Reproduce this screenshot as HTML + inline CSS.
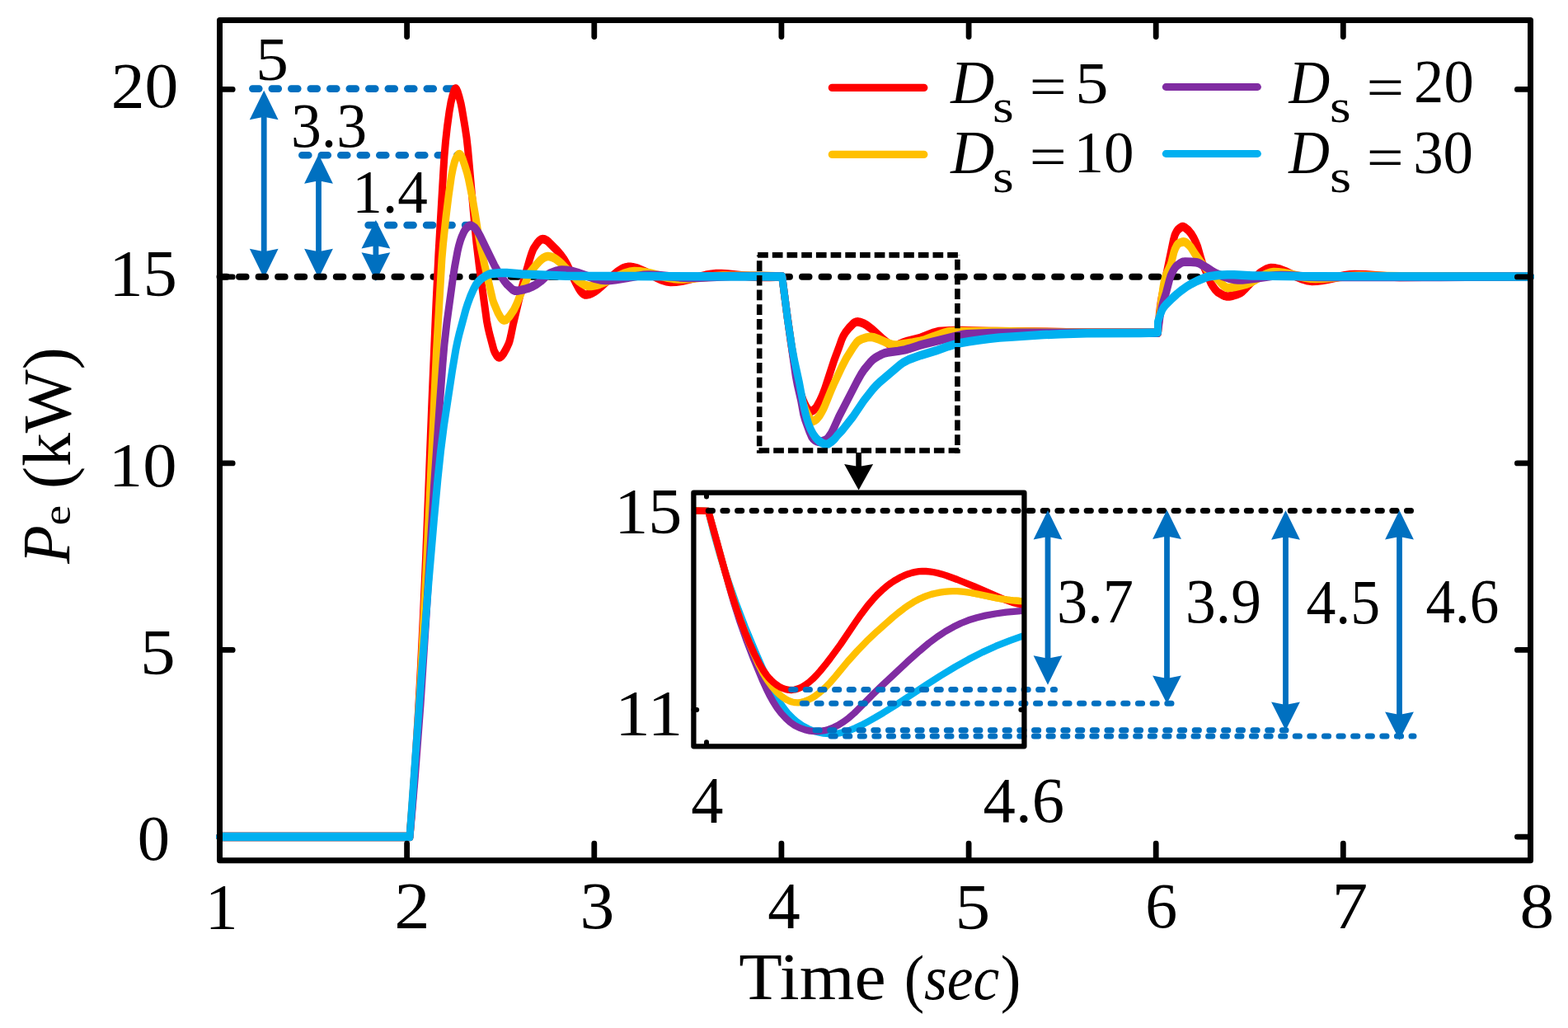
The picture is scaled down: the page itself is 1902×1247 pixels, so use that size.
<!DOCTYPE html>
<html><head><meta charset="utf-8"><title>Pe (kW) vs Time</title><style>html,body{margin:0;padding:0;background:#fff;}svg{display:block;}</style></head><body>
<svg width="1902" height="1247" viewBox="0 0 1902 1247">
<rect width="100%" height="100%" fill="#fff"/>
<defs><clipPath id="mclip"><rect x="262" y="24.5" width="1599" height="1019"/></clipPath><clipPath id="iclip"><rect x="841.4" y="597.7" width="401" height="307.6"/></clipPath></defs>
<line x1="320.2" y1="141.3" x2="320.2" y2="305.7" stroke="#0070C0" stroke-width="6.8"/><path d="M320.2,109.8 L337.6,145.3 L320.2,141.8 L302.8,145.3 Z" fill="#0070C0"/><path d="M320.2,337.2 L337.6,301.7 L320.2,305.2 L302.8,301.7 Z" fill="#0070C0"/>
<line x1="386.5" y1="218.7" x2="386.5" y2="305.7" stroke="#0070C0" stroke-width="6.8"/><path d="M386.5,187.2 L403.9,222.7 L386.5,219.2 L369.1,222.7 Z" fill="#0070C0"/><path d="M386.5,337.2 L403.9,301.7 L386.5,305.2 L369.1,301.7 Z" fill="#0070C0"/>
<line x1="455.9" y1="297.59999999999997" x2="455.9" y2="310.2" stroke="#0070C0" stroke-width="6.8"/><path d="M455.9,266.9 L473.3,301.6 L455.9,298.1 L438.5,301.6 Z" fill="#0070C0"/><path d="M455.9,340.9 L473.3,306.2 L455.9,309.7 L438.5,306.2 Z" fill="#0070C0"/>
<line x1="266.5" y1="335.8" x2="1856.5" y2="335.8" stroke="#000" stroke-width="8" stroke-dasharray="8.5 15.05" stroke-linecap="round"/>
<line x1="306.3" y1="107.6" x2="550" y2="107.6" stroke="#0070C0" stroke-width="8.6" stroke-dasharray="8 15.5" stroke-linecap="round"/>
<line x1="366.3" y1="188.2" x2="556" y2="188.2" stroke="#0070C0" stroke-width="8.6" stroke-dasharray="8 15.5" stroke-linecap="round"/>
<line x1="446.6" y1="273.1" x2="568" y2="273.1" stroke="#0070C0" stroke-width="8.6" stroke-dasharray="8 15.5" stroke-linecap="round"/>
<g clip-path="url(#mclip)"><g transform="matrix(1 0 0 1.17 0 0)" fill="none" stroke-width="9.0" stroke-linejoin="round" stroke-linecap="round">
<path d="M266.5,867.6 L497.0,867.6 L500.5,830.2 L504.0,786.5 L507.5,737.5 L510.5,689.6 L513.5,636.4 L516.5,578.8 L524.0,414.3 L529.0,314.1 L532.0,262.0 L538.0,174.9 L539.0,161.6 L540.5,146.7 L542.5,131.3 L545.0,115.8 L547.0,106.0 L549.0,99.2 L551.0,93.7 L552.0,92.2 L552.5,91.9 L553.0,91.9 L553.5,92.3 L555.0,94.9 L557.0,100.5 L559.0,107.0 L560.5,113.6 L564.0,131.4 L566.0,142.8 L567.5,154.4 L576.0,235.4 L578.0,252.2 L581.5,277.1 L590.5,333.0 L592.0,339.7 L593.5,345.3 L599.0,362.9 L600.0,365.0 L602.5,368.7 L604.0,370.1 L605.0,370.5 L606.5,370.3 L608.0,369.4 L609.5,368.1 L611.0,366.3 L614.6,360.8 L617.1,356.1 L618.1,353.7 L619.6,348.3 L622.6,335.8 L633.1,298.0 L637.6,283.6 L642.6,268.7 L645.1,262.1 L646.6,258.9 L647.6,257.2 L651.6,252.2 L653.6,250.2 L655.1,249.0 L656.6,248.2 L658.1,247.9 L659.6,248.0 L661.6,248.6 L663.6,249.6 L665.6,251.0 L675.6,259.6 L681.1,265.2 L684.6,269.4 L687.6,273.8 L698.1,292.8 L702.1,299.2 L704.1,301.7 L706.1,303.7 L708.1,305.0 L709.6,305.5 L712.1,305.5 L715.1,304.9 L718.1,303.9 L721.6,302.2 L725.1,300.0 L728.6,297.5 L743.1,286.0 L749.1,281.7 L752.6,279.7 L755.6,278.3 L758.6,277.3 L761.6,276.8 L764.6,276.8 L767.6,277.1 L770.6,277.7 L774.1,278.6 L781.1,281.1 L795.6,287.4 L801.6,289.8 L808.1,291.6 L813.6,292.3 L820.1,292.1 L827.1,291.3 L834.6,289.9 L856.2,285.3 L862.7,284.3 L868.7,283.8 L875.2,283.8 L882.7,284.2 L909.2,286.5 L919.2,287.1 L933.7,287.1 L948.7,286.7 L954.2,323.2 L959.7,356.3 L962.7,372.3 L968.2,398.0 L969.7,403.3 L971.2,407.6 L973.7,413.6 L975.7,417.9 L977.2,420.5 L979.2,423.4 L981.7,425.7 L983.2,426.5 L984.7,426.3 L986.2,425.6 L988.2,424.1 L990.2,422.3 L994.2,416.0 L997.2,410.6 L1000.7,402.7 L1011.7,373.9 L1017.2,361.3 L1020.7,352.7 L1022.7,348.8 L1025.7,344.5 L1029.7,340.1 L1035.3,335.2 L1036.3,334.6 L1038.8,333.7 L1040.8,333.6 L1043.8,334.2 L1047.8,335.5 L1051.3,337.2 L1057.8,341.4 L1069.3,350.4 L1080.3,358.2 L1082.8,359.7 L1085.3,360.3 L1086.3,360.1 L1087.3,359.7 L1091.3,356.8 L1094.8,355.4 L1100.8,353.8 L1116.8,350.3 L1132.8,344.9 L1138.3,343.7 L1147.3,343.2 L1157.8,342.8 L1167.3,342.7 L1199.4,343.6 L1253.4,344.1 L1306.9,344.8 L1404.5,345.0 L1406.5,323.7 L1408.5,311.2 L1415.0,283.4 L1423.5,248.6 L1425.0,243.9 L1426.0,241.9 L1427.5,239.6 L1429.0,238.0 L1431.0,236.5 L1432.5,235.6 L1434.0,235.1 L1435.5,235.1 L1437.0,235.7 L1441.5,238.8 L1445.0,242.4 L1448.0,246.6 L1450.5,251.1 L1452.6,255.5 L1457.1,269.0 L1459.1,274.2 L1464.6,284.7 L1468.1,292.1 L1469.1,293.9 L1470.6,296.1 L1474.1,300.3 L1477.1,302.9 L1483.1,305.9 L1485.6,306.8 L1487.6,307.2 L1491.1,307.2 L1495.1,306.6 L1501.1,305.0 L1504.6,303.7 L1507.1,302.1 L1509.6,300.0 L1518.1,292.4 L1525.1,285.6 L1528.1,283.2 L1530.1,282.0 L1536.1,279.1 L1539.1,278.1 L1541.6,277.8 L1546.7,278.1 L1552.7,279.3 L1559.2,281.4 L1573.7,287.2 L1579.7,289.3 L1586.2,290.9 L1591.7,291.4 L1597.2,291.3 L1603.7,290.6 L1610.7,289.5 L1631.2,285.7 L1637.7,284.9 L1643.3,284.6 L1656.3,284.9 L1685.3,286.7 L1697.8,287.2 L1755.9,286.8 L1856.5,286.8" stroke="#FF0000"/>
<path d="M266.5,867.6 L497.0,867.6 L500.5,830.4 L504.0,788.5 L507.5,742.5 L510.5,698.7 L518.0,575.6 L529.5,363.3 L536.0,267.9 L537.5,253.1 L541.0,224.8 L544.0,203.8 L547.5,182.8 L549.5,174.1 L551.5,167.5 L552.5,165.4 L554.5,162.0 L555.5,160.8 L556.5,160.0 L557.5,159.9 L558.5,160.5 L559.5,161.7 L561.0,164.4 L564.0,172.1 L566.5,179.1 L568.0,184.1 L573.0,205.2 L576.5,222.7 L580.0,241.6 L583.0,255.3 L588.0,275.3 L597.5,310.2 L599.0,314.3 L604.0,324.2 L607.0,328.8 L608.5,330.5 L609.5,331.3 L611.0,332.0 L612.0,332.0 L613.5,331.7 L615.1,330.8 L618.1,327.9 L623.1,321.6 L626.1,316.4 L639.6,288.4 L641.6,284.8 L643.6,281.9 L650.1,274.8 L655.1,270.2 L657.6,268.4 L659.6,267.2 L661.6,266.4 L663.6,265.9 L666.1,265.9 L669.1,266.4 L672.1,267.5 L675.1,269.1 L678.6,271.4 L682.1,274.2 L696.1,286.7 L702.1,291.5 L705.6,293.7 L708.6,295.2 L711.6,296.2 L714.1,296.6 L717.1,296.5 L720.1,296.2 L723.6,295.6 L727.1,294.7 L734.6,292.2 L749.6,286.2 L756.6,283.7 L763.6,281.9 L769.6,281.2 L775.6,281.4 L782.6,282.2 L789.6,283.5 L810.1,287.9 L816.6,288.8 L822.6,289.3 L829.1,289.3 L836.6,288.9 L864.7,286.5 L876.7,285.9 L918.2,286.0 L948.7,286.8 L954.7,326.4 L959.7,356.3 L962.7,372.3 L968.7,400.8 L970.2,406.3 L972.2,412.6 L974.7,419.4 L976.7,424.0 L979.2,428.8 L983.2,435.2 L984.2,436.4 L985.2,436.9 L986.2,436.7 L987.7,436.2 L990.7,434.5 L994.2,430.9 L996.7,427.4 L998.7,424.2 L1000.7,420.4 L1007.7,405.6 L1011.7,397.6 L1021.2,380.3 L1026.7,371.2 L1035.3,359.6 L1038.8,355.4 L1039.8,354.4 L1041.3,353.3 L1045.3,351.5 L1051.3,349.9 L1055.8,349.3 L1059.3,349.7 L1066.8,352.0 L1073.3,354.4 L1080.3,356.8 L1083.3,357.5 L1085.8,357.7 L1089.8,357.4 L1107.3,355.1 L1116.8,353.6 L1121.8,352.4 L1132.3,348.9 L1145.8,345.0 L1150.3,344.0 L1153.8,343.6 L1176.8,343.5 L1209.4,343.7 L1316.4,344.9 L1404.5,345.0 L1406.5,327.4 L1408.5,312.9 L1411.0,297.5 L1412.0,292.6 L1413.0,288.9 L1415.0,283.8 L1418.5,277.4 L1420.0,274.3 L1421.0,271.6 L1424.0,261.4 L1425.5,257.8 L1427.5,254.5 L1429.0,252.8 L1431.0,251.7 L1434.0,250.9 L1436.0,250.7 L1437.5,251.0 L1439.5,252.1 L1442.5,254.3 L1444.5,256.4 L1449.0,262.5 L1456.1,271.2 L1463.1,278.5 L1468.6,283.4 L1476.6,289.1 L1484.1,296.1 L1486.6,297.7 L1488.6,298.3 L1492.6,298.1 L1497.6,297.5 L1504.1,296.3 L1512.1,294.6 L1518.6,292.1 L1530.6,286.3 L1535.6,284.2 L1540.6,282.7 L1545.1,282.1 L1550.7,282.2 L1556.7,282.8 L1563.7,284.0 L1583.7,287.8 L1590.2,288.6 L1595.7,288.9 L1608.2,288.5 L1636.2,286.4 L1648.8,285.9 L1715.8,286.7 L1856.5,286.8" stroke="#FFC000"/>
<path d="M266.5,867.6 L497.0,867.6 L500.0,839.6 L503.5,804.1 L510.0,730.7 L516.5,645.8 L526.5,503.9 L533.5,417.7 L537.0,377.0 L539.0,356.9 L542.0,334.4 L549.0,290.8 L551.5,276.8 L555.0,260.5 L556.5,255.0 L558.5,249.2 L560.0,245.6 L562.0,241.7 L563.5,239.2 L565.0,237.2 L567.5,235.1 L569.5,233.9 L570.5,233.8 L571.5,233.9 L573.5,234.7 L576.0,236.3 L578.0,238.4 L580.5,241.7 L582.5,244.8 L600.0,275.5 L604.0,281.6 L612.0,291.6 L615.1,294.9 L621.1,299.8 L623.1,300.9 L624.6,301.4 L626.6,301.4 L629.1,301.2 L636.1,300.0 L640.6,298.9 L645.1,297.3 L650.1,295.1 L656.6,291.1 L664.1,285.1 L667.1,283.3 L675.1,280.9 L678.6,280.2 L681.6,280.0 L687.1,280.1 L693.6,281.1 L700.6,282.8 L715.6,287.2 L721.6,288.8 L728.1,290.1 L734.1,290.6 L740.1,290.5 L746.6,289.9 L774.6,286.0 L781.1,285.3 L787.1,285.1 L798.6,285.4 L824.1,287.5 L835.6,288.0 L848.6,287.8 L875.2,286.7 L886.7,286.3 L922.2,286.4 L948.7,286.8 L955.2,329.4 L965.2,389.8 L967.2,398.9 L971.7,415.6 L974.7,429.6 L976.7,435.4 L981.7,447.1 L984.7,453.1 L986.2,454.8 L988.2,456.3 L991.2,457.6 L993.7,458.1 L995.7,457.9 L999.2,457.0 L1002.2,455.9 L1004.7,453.7 L1008.2,449.3 L1009.7,447.0 L1017.7,431.9 L1039.8,395.2 L1044.3,388.3 L1048.3,383.1 L1055.3,375.9 L1059.3,372.5 L1061.8,370.9 L1064.8,369.4 L1069.8,367.2 L1073.3,366.0 L1076.8,365.4 L1089.3,364.0 L1097.8,362.7 L1102.8,361.5 L1114.3,358.3 L1120.8,356.8 L1164.3,347.6 L1168.8,346.8 L1172.8,346.4 L1203.4,345.4 L1236.4,345.0 L1404.5,345.0 L1407.0,328.7 L1409.0,319.1 L1410.5,314.2 L1414.5,303.5 L1418.5,290.4 L1420.0,286.2 L1421.0,284.1 L1423.0,280.8 L1425.0,278.0 L1426.5,276.4 L1428.0,275.2 L1431.5,273.1 L1433.5,272.1 L1435.5,271.5 L1437.5,271.4 L1444.5,271.6 L1451.0,272.0 L1453.1,272.4 L1456.6,273.9 L1464.1,277.7 L1471.6,281.9 L1475.1,283.5 L1484.6,286.7 L1490.6,288.5 L1496.6,289.7 L1501.6,290.2 L1507.1,290.1 L1513.6,289.6 L1541.1,286.3 L1547.7,285.7 L1553.7,285.5 L1564.2,285.7 L1588.2,286.9 L1599.2,287.2 L1747.4,287.1 L1856.5,286.8" stroke="#802CA2"/>
<path d="M266.5,867.6 L497.0,867.6 L503.5,789.4 L511.5,696.6 L520.0,603.0 L526.5,538.2 L531.0,496.5 L534.5,468.0 L538.5,441.0 L548.5,384.6 L553.0,362.0 L555.0,353.7 L557.0,346.5 L565.0,321.1 L567.5,314.5 L570.5,307.5 L574.5,299.7 L577.5,295.0 L580.5,291.8 L584.0,288.9 L589.0,286.1 L592.5,284.6 L595.5,283.8 L599.5,283.5 L607.0,283.0 L614.6,282.9 L632.6,284.1 L686.6,286.1 L805.1,286.6 L948.7,286.8 L955.7,332.8 L960.7,360.3 L963.7,374.0 L969.2,395.5 L973.7,416.0 L976.2,425.7 L978.2,432.6 L980.7,439.4 L983.2,444.9 L986.2,449.8 L989.2,453.5 L990.7,455.0 L992.7,456.6 L994.7,457.9 L997.7,459.5 L999.7,460.2 L1003.2,460.5 L1004.7,460.1 L1008.7,457.8 L1011.2,456.0 L1012.7,454.7 L1016.2,450.9 L1022.2,445.5 L1034.3,432.4 L1047.8,415.4 L1058.3,404.0 L1062.8,399.7 L1066.8,396.4 L1091.8,378.2 L1096.3,375.5 L1102.3,372.9 L1108.3,370.9 L1117.3,368.2 L1135.3,363.6 L1150.3,359.0 L1156.8,357.4 L1165.3,355.6 L1175.3,354.1 L1187.4,352.5 L1198.9,351.2 L1212.4,350.1 L1228.9,349.1 L1265.9,347.1 L1285.9,346.3 L1318.4,345.6 L1384.0,345.3 L1403.0,344.9 L1404.5,344.5 L1404.5,333.5 L1407.5,325.9 L1409.5,321.7 L1411.5,318.7 L1414.0,316.0 L1422.0,309.2 L1427.5,304.9 L1433.5,300.8 L1439.5,297.1 L1445.0,294.3 L1451.5,291.4 L1461.1,288.0 L1465.6,286.8 L1478.1,285.3 L1489.1,284.8 L1497.1,284.9 L1519.1,285.9 L1581.7,286.6 L1856.5,286.8" stroke="#00B0F0"/>
</g></g>
<line x1="917.9000000000001" y1="309.4" x2="1164.7" y2="309.4" stroke="#000" stroke-width="6.6" stroke-dasharray="12.7 5" stroke-dashoffset="16.5"/>
<line x1="921.2" y1="309.4" x2="921.2" y2="549.8" stroke="#000" stroke-width="6.6" stroke-dasharray="12.7 5" stroke-dashoffset="10.9"/>
<line x1="917.9000000000001" y1="546.5" x2="1164.7" y2="546.5" stroke="#000" stroke-width="6.6" stroke-dasharray="12.7 5" stroke-dashoffset="15.1"/>
<line x1="1161.4" y1="309.4" x2="1161.4" y2="549.8" stroke="#000" stroke-width="6.6" stroke-dasharray="12.7 5" stroke-dashoffset="12.3"/>
<line x1="1041.6" y1="549" x2="1041.6" y2="566" stroke="#000" stroke-width="6.7"/>
<path d="M1041.6,594.5 L1059.1,563.0 L1041.6,566.0 L1024.1,563.0 Z" fill="#000"/>
<rect x="841.4" y="597.7" width="401" height="307.6" fill="#fff"/>
<g clip-path="url(#iclip)" fill="none" stroke-width="8.3" stroke-linejoin="round" stroke-linecap="round">
<path d="M839.1,619.3 L859.2,619.9 L866.1,647.7 L873.9,675.2 L882.6,702.7 L892.5,730.9 L903.7,760.3 L916.2,790.3 L923.8,807.8 L931.8,825.3 L936.6,835.3 L941.0,843.7 L945.8,851.9 L950.9,859.2 L955.8,865.3 L961.3,871.0 L966.9,875.8 L973.2,880.1 L979.9,883.7 L987.0,886.7 L993.3,888.5 L999.1,889.7 L1005.6,890.2 L1012.0,890.1 L1017.8,889.4 L1024.1,888.0 L1030.7,885.9 L1037.6,883.1 L1044.5,879.8 L1052.9,875.3 L1061.7,870.4 L1071.2,864.8 L1088.6,853.9 L1123.6,830.8 L1140.4,820.0 L1158.3,809.1 L1174.9,799.8 L1191.8,791.1 L1208.2,783.7 L1225.5,776.9 L1254.2,766.5" stroke="#00B0F0"/>
<path d="M839.1,619.3 L859.2,619.9 L865.6,642.4 L884.4,711.2 L890.7,732.8 L896.9,752.3 L905.1,775.7 L914.3,799.7 L925.5,826.6 L929.5,835.4 L933.1,842.7 L937.7,851.1 L942.6,858.7 L947.8,865.5 L953.3,871.4 L958.5,876.1 L964.1,880.0 L969.8,882.9 L976.2,885.2 L982.4,886.6 L988.2,887.1 L994.0,887.0 L999.8,886.2 L1005.5,884.7 L1011.5,882.3 L1017.7,879.1 L1023.7,875.3 L1029.8,870.7 L1036.3,865.0 L1042.5,858.9 L1057.3,843.8 L1067.6,833.8 L1100.2,803.2 L1115.3,789.7 L1126.5,780.3 L1136.9,772.5 L1146.9,765.9 L1156.8,760.3 L1165.7,756.0 L1174.9,752.3 L1184.9,749.2 L1195.6,746.6 L1207.5,744.5 L1220.5,742.7 L1235.0,741.3 L1253.9,739.8" stroke="#802CA2"/>
<path d="M839.1,619.3 L859.2,619.9 L877.3,685.6 L883.4,706.6 L889.2,725.2 L895.4,744.1 L901.7,761.5 L908.2,778.3 L914.8,794.1 L920.7,806.9 L925.7,816.8 L931.0,825.4 L936.4,832.8 L939.4,836.3 L942.5,839.7 L945.5,842.5 L948.7,845.1 L951.9,847.4 L954.8,849.1 L957.8,850.5 L960.9,851.5 L964.4,852.2 L968.0,852.3 L972.0,851.8 L976.0,850.7 L980.1,849.1 L984.5,846.9 L989.2,843.9 L993.8,840.5 L1000.4,834.6 L1007.5,827.3 L1013.5,820.4 L1028.1,802.6 L1039.8,789.6 L1051.2,777.8 L1063.9,765.8 L1083.0,748.9 L1090.0,743.1 L1096.4,738.2 L1102.5,733.9 L1108.4,730.2 L1114.1,727.1 L1119.9,724.4 L1124.6,722.6 L1129.8,720.9 L1134.7,719.7 L1140.1,718.6 L1145.1,717.9 L1150.6,717.3 L1155.6,717.1 L1161.1,717.2 L1169.6,717.9 L1178.6,719.2 L1187.4,720.9 L1209.0,725.5 L1221.4,727.6 L1228.8,728.4 L1236.7,729.0 L1245.1,729.4 L1254.1,729.6" stroke="#FFC000"/>
<path d="M839.1,619.3 L859.2,619.9 L879.2,692.3 L887.9,722.0 L893.2,738.1 L898.3,752.7 L903.6,766.8 L909.0,779.7 L915.0,793.0 L920.9,804.7 L925.4,812.5 L930.0,819.0 L932.5,822.1 L935.3,825.0 L938.2,827.8 L941.0,830.0 L943.9,832.0 L947.0,833.8 L950.2,835.2 L953.0,836.2 L956.7,836.9 L960.5,837.0 L964.2,836.5 L968.4,835.3 L972.5,833.5 L976.9,830.9 L981.5,827.5 L985.8,823.7 L990.2,819.3 L994.9,814.0 L1000.9,806.7 L1007.3,798.4 L1019.6,781.6 L1037.6,755.0 L1044.5,745.2 L1052.4,734.8 L1059.8,726.1 L1064.9,720.7 L1070.0,715.9 L1075.3,711.3 L1080.5,707.4 L1086.0,703.8 L1091.2,700.8 L1096.7,698.2 L1101.8,696.2 L1106.0,694.9 L1110.4,693.9 L1114.7,693.2 L1118.6,692.9 L1123.1,693.0 L1127.5,693.3 L1132.0,694.0 L1136.9,695.0 L1142.3,696.4 L1147.7,698.1 L1161.1,703.0 L1181.8,711.4 L1217.9,727.0 L1228.4,730.9 L1235.5,732.7 L1241.8,733.5 L1247.5,733.2 L1254.2,732.0" stroke="#FF0000"/>
<path d="M1177.6,719.0 L1186.9,720.8 L1209.0,725.5 L1220.4,727.4 L1228.3,728.4 L1236.2,729.0 L1244.6,729.4 L1254.1,729.6" stroke="#FFC000"/>
</g>
<line x1="859.25" y1="619.4" x2="1711.5" y2="619.4" stroke="#000" stroke-width="7" stroke-dasharray="5.2 12.45" stroke-linecap="round"/>
<line x1="959.6" y1="836.5" x2="1279.5" y2="836.5" stroke="#0070C0" stroke-width="7" stroke-dasharray="5.2 12.45" stroke-linecap="round"/>
<line x1="973.3" y1="853.3" x2="1421" y2="853.3" stroke="#0070C0" stroke-width="7" stroke-dasharray="5.2 12.5" stroke-linecap="round"/>
<line x1="989" y1="885.7" x2="1560" y2="885.7" stroke="#0070C0" stroke-width="7" stroke-dasharray="5.2 12.5" stroke-linecap="round"/>
<line x1="1008" y1="893.1" x2="1715" y2="893.1" stroke="#0070C0" stroke-width="7" stroke-dasharray="5.2 12.4" stroke-linecap="round"/>
<rect x="841.4" y="597.7" width="401" height="307.6" fill="none" stroke="#000" stroke-width="6.3" stroke-linejoin="round"/>
<g stroke="#000" stroke-width="6" stroke-linecap="round"><line x1="857" y1="905" x2="857" y2="900.3"/><line x1="857" y1="598" x2="857" y2="602.5"/><line x1="841.5" y1="861.1" x2="845.2" y2="861.1"/><line x1="1242" y1="861.1" x2="1238.4" y2="861.1"/></g>
<line x1="1271" y1="650.5" x2="1271" y2="799.2" stroke="#0070C0" stroke-width="6.8"/><path d="M1271.0,619.0 L1288.4,654.5 L1271.0,651.0 L1253.6,654.5 Z" fill="#0070C0"/><path d="M1271.0,830.7 L1288.4,795.2 L1271.0,798.7 L1253.6,795.2 Z" fill="#0070C0"/>
<line x1="1415.5" y1="650.0" x2="1415.5" y2="823.5" stroke="#0070C0" stroke-width="6.8"/><path d="M1415.5,618.5 L1432.9,654.0 L1415.5,650.5 L1398.1,654.0 Z" fill="#0070C0"/><path d="M1415.5,853.5 L1432.9,819.5 L1415.5,823.0 L1398.1,819.5 Z" fill="#0070C0"/>
<line x1="1559.5" y1="650.7" x2="1559.5" y2="855.5" stroke="#0070C0" stroke-width="6.8"/><path d="M1559.5,619.2 L1576.9,654.7 L1559.5,651.2 L1542.1,654.7 Z" fill="#0070C0"/><path d="M1559.5,886.0 L1576.9,851.5 L1559.5,855.0 L1542.1,851.5 Z" fill="#0070C0"/>
<line x1="1697.5" y1="650.4" x2="1697.5" y2="867.6" stroke="#0070C0" stroke-width="6.8"/><path d="M1697.5,618.9 L1714.9,654.4 L1697.5,650.9 L1680.1,654.4 Z" fill="#0070C0"/><path d="M1697.5,897.7 L1714.9,863.6 L1697.5,867.1 L1680.1,863.6 Z" fill="#0070C0"/>
<g stroke="#000" stroke-width="6.8" stroke-linecap="round"><line x1="493.6" y1="1043.5" x2="493.6" y2="1023.1"/><line x1="493.6" y1="24.5" x2="493.6" y2="44.6"/><line x1="720.8" y1="1043.5" x2="720.8" y2="1023.1"/><line x1="720.8" y1="24.5" x2="720.8" y2="44.6"/><line x1="947.9" y1="1043.5" x2="947.9" y2="1023.1"/><line x1="947.9" y1="24.5" x2="947.9" y2="44.6"/><line x1="1175.1" y1="1043.5" x2="1175.1" y2="1023.1"/><line x1="1175.1" y1="24.5" x2="1175.1" y2="44.6"/><line x1="1402.2" y1="1043.5" x2="1402.2" y2="1023.1"/><line x1="1402.2" y1="24.5" x2="1402.2" y2="44.6"/><line x1="1629.3" y1="1043.5" x2="1629.3" y2="1023.1"/><line x1="1629.3" y1="24.5" x2="1629.3" y2="44.6"/><line x1="266.5" y1="108.4" x2="282.2" y2="108.4"/><line x1="1856.5" y1="108.4" x2="1840.4" y2="108.4"/><line x1="266.5" y1="335.9" x2="282.2" y2="335.9"/><line x1="1856.5" y1="335.9" x2="1840.4" y2="335.9"/><line x1="266.5" y1="561.9" x2="282.2" y2="561.9"/><line x1="1856.5" y1="561.9" x2="1840.4" y2="561.9"/><line x1="266.5" y1="788.4" x2="282.2" y2="788.4"/><line x1="1856.5" y1="788.4" x2="1840.4" y2="788.4"/><line x1="1856.5" y1="1015.1" x2="1840.4" y2="1015.1"/></g>
<rect x="266.5" y="24.5" width="1590" height="1019.2" fill="none" stroke="#000" stroke-width="7" stroke-linejoin="round"/>
<g stroke-linecap="round"><line x1="1009.4" y1="106.4" x2="1120.7" y2="106.4" stroke="#FF0000" stroke-width="9.4"/><line x1="1009.4" y1="187.4" x2="1120.7" y2="187.4" stroke="#FFC000" stroke-width="9.4"/><line x1="1414.2" y1="105.5" x2="1525.5" y2="105.5" stroke="#802CA2" stroke-width="8.8"/><line x1="1414.2" y1="186.5" x2="1525.5" y2="186.5" stroke="#00B0F0" stroke-width="8.8"/></g>
<g font-family="Liberation Serif, serif" font-size="100" fill="#000">
<text transform="matrix(0.8163 0 0 0.7925 134.63 130.41)">20</text>
<text transform="matrix(0.8287 0 0 0.7955 132.14 358.50)">15</text>
<text transform="matrix(0.8264 0 0 0.7662 131.86 589.87)">10</text>
<text transform="matrix(0.8550 0 0 0.7879 170.07 817.21)">5</text>
<text transform="matrix(0.7857 0 0 0.7925 166.86 1043.01)">0</text>
<text transform="matrix(0.7971 0 0 0.7879 248.83 1125.90)">1</text>
<text transform="matrix(0.8675 0 0 0.8000 478.13 1126.00)">2</text>
<text transform="matrix(0.8366 0 0 0.8061 703.62 1126.19)">3</text>
<text transform="matrix(0.7891 0 0 0.8000 931.32 1125.90)">4</text>
<text transform="matrix(0.8550 0 0 0.7879 1158.57 1126.21)">5</text>
<text transform="matrix(0.7791 0 0 0.7821 1389.28 1124.84)">6</text>
<text transform="matrix(0.8750 0 0 0.8046 1615.58 1126.40)">7</text>
<text transform="matrix(0.8333 0 0 0.7821 1843.57 1124.84)">8</text>
<text transform="matrix(0.8604 0 0 0.8045 896.28 1212.10)">Time</text>
<text transform="matrix(0.7346 0 0 0.7900 1096.86 1213.31)">(</text>
<text transform="matrix(0.7136 0 0 0.7708 1121.09 1212.13)" font-style="italic">sec</text>
<text transform="matrix(0.7385 0 0 0.7900 1213.68 1213.31)">)</text>
<text transform="matrix(0 -0.7610 0.8215 0 84.20 683.80)" font-style="italic">P</text>
<text transform="matrix(0 -0.5541 0.4854 0 84.51 637.52)">e</text>
<text transform="matrix(0 -0.8138 0.8200 0 84.98 592.96)">(kW)</text>
<text transform="matrix(0.7333 0 0 0.7446 1153.33 125.30)" font-style="italic">D</text>
<text transform="matrix(0.6613 0 0 0.5667 1203.95 148.33)">s</text>
<text transform="matrix(0.7979 0 0 0.6880 1248.71 129.45)">=</text>
<text transform="matrix(0.8050 0 0 0.7167 1304.27 124.78)">5</text>
<text transform="matrix(0.7333 0 0 0.7446 1153.33 209.80)" font-style="italic">D</text>
<text transform="matrix(0.6613 0 0 0.5667 1203.95 232.83)">s</text>
<text transform="matrix(0.7979 0 0 0.6880 1248.71 213.95)">=</text>
<text transform="matrix(0.7310 0 0 0.7235 1302.42 209.45)">10</text>
<text transform="matrix(0.6889 0 0 0.7369 1563.39 124.70)" font-style="italic">D</text>
<text transform="matrix(0.6581 0 0 0.5625 1612.97 147.84)">s</text>
<text transform="matrix(0.8106 0 0 0.6880 1657.45 130.05)">=</text>
<text transform="matrix(0.7261 0 0 0.7299 1715.10 124.24)">20</text>
<text transform="matrix(0.6875 0 0 0.7492 1563.29 210.30)" font-style="italic">D</text>
<text transform="matrix(0.6710 0 0 0.5646 1612.92 232.74)">s</text>
<text transform="matrix(0.7979 0 0 0.6960 1657.71 215.12)">=</text>
<text transform="matrix(0.7286 0 0 0.7403 1714.16 209.72)">30</text>
<text transform="matrix(0.7925 0 0 0.7439 310.35 97.46)">5</text>
<text transform="matrix(0.7371 0 0 0.7576 353.01 177.84)">3.3</text>
<text transform="matrix(0.7316 0 0 0.7418 427.32 257.76)">1.4</text>
<text transform="matrix(0.7444 0 0 0.7576 1281.98 755.04)">3.7</text>
<text transform="matrix(0.7353 0 0 0.7636 1438.12 755.34)">3.9</text>
<text transform="matrix(0.7176 0 0 0.7652 1584.46 755.63)">4.5</text>
<text transform="matrix(0.7117 0 0 0.7522 1729.38 754.60)">4.6</text>
<text transform="matrix(0.8218 0 0 0.7910 745.20 646.11)">15</text>
<text transform="matrix(0.8556 0 0 0.7864 746.00 890.90)">11</text>
<text transform="matrix(0.7848 0 0 0.7969 838.23 998.00)">4</text>
<text transform="matrix(0.7875 0 0 0.7776 1192.62 996.74)">4.6</text>
</g>
</svg>
</body></html>
